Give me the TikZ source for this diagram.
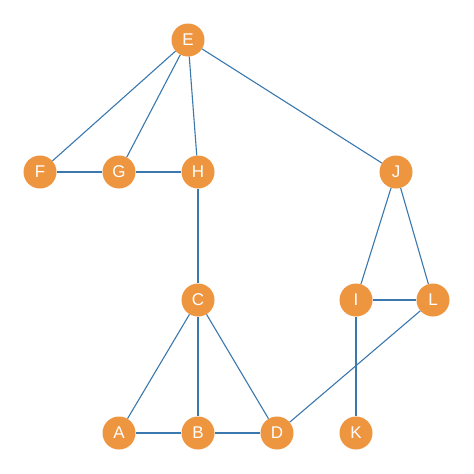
\documentclass[tikz,border=0pt]{standalone}
\usepackage{fontspec}
\setmainfont{Liberation Sans}
\definecolor{nodeorange}{HTML}{EE9540}
\definecolor{edgeblue}{HTML}{3B78AE}
\begin{document}
\begin{tikzpicture}[x=1pt,y=-1pt,
  vert/.style={circle,fill=nodeorange,draw=none,minimum size=33pt,inner sep=0pt,text=white,font=\fontsize{17}{17}\selectfont},
  edge/.style={draw=edgeblue,line width=1.1pt}]
\fill[white] (0,0) rectangle (474,474);
\useasboundingbox (0,0) rectangle (474,474);
\node[vert] (E) at (188,40) {E};
\node[vert] (F) at (40,172) {F};
\node[vert] (G) at (119,172) {G};
\node[vert] (H) at (198,172) {H};
\node[vert] (J) at (396,172) {J};
\node[vert] (C) at (198,300) {C};
\node[vert] (I) at (356,300) {I};
\node[vert] (L) at (433,300) {L};
\node[vert] (A) at (119,433) {A};
\node[vert] (B) at (198,433) {B};
\node[vert] (D) at (277,433) {D};
\node[vert] (K) at (356,433) {K};
\foreach \a/\b in {E/F,E/G,E/H,E/J,F/G,G/H,H/C,C/A,C/B,C/D,A/B,B/D,D/L,J/I,J/L,I/L,I/K}
  \draw[edge] (\a) -- (\b);
\end{tikzpicture}
\end{document}
